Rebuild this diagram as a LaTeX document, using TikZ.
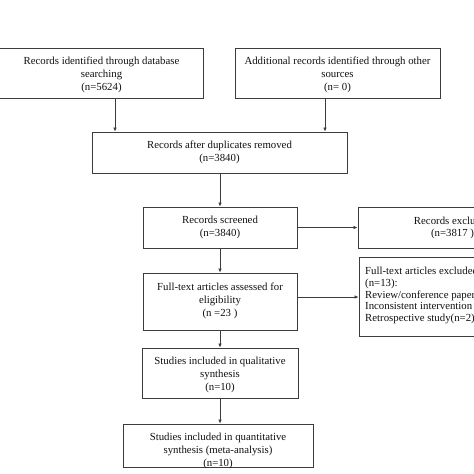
\documentclass[tikz,border=0pt]{standalone}
\usepackage{fontspec}
\setmainfont{Liberation Serif}
\usetikzlibrary{arrows.meta}
\definecolor{ink}{HTML}{111111}
\definecolor{edge}{HTML}{3C3C3C}
\tikzset{
  box/.style={draw=edge, line width=0.9pt, inner sep=0pt},
  txt/.style={text=ink, align=center, inner sep=0pt, font=\fontsize{10.8}{12.7}\selectfont},
  ltxt/.style={text=ink, align=left, inner sep=0pt, anchor=west, font=\fontsize{10.8}{11.8}\selectfont},
  arr/.style={draw=edge, line width=0.8pt, -{Latex[length=4pt,width=3.6pt]}}
}
\begin{document}
\begin{tikzpicture}[x=1pt,y=-1pt]
\useasboundingbox (0,0) rectangle (474,474);
\fill[white] (0,0) rectangle (474,474);
\clip (0,0) rectangle (474,474);
% boxes
\node[box, minimum width=205pt, minimum height=50pt] (b1) at (100.5,73) {};
\node[box, minimum width=205pt, minimum height=50pt] (b2) at (337.5,73) {};
\node[box, minimum width=255pt, minimum height=41pt] (b3) at (219.5,152.5) {};
\node[box, minimum width=154pt, minimum height=41pt] (b4) at (220,227.5) {};
\node[box, minimum width=189pt, minimum height=41pt] (b5) at (452.5,227.5) {};
\node[box, minimum width=154pt, minimum height=57pt] (b6) at (220,301.5) {};
\node[box, minimum width=200pt, minimum height=79pt] (b7) at (459,296.5) {};
\node[box, minimum width=156pt, minimum height=50pt] (b8) at (220,373) {};
\node[box, minimum width=190pt, minimum height=43pt] (b9) at (218,445.5) {};
% texts
\node[txt] (t1) at (101.5,75) {Records identified through database\\searching\\(n=5624)};
\node[txt] (t2) at (337.5,75) {Additional records identified through other\\sources\\(n= 0)};
\node[txt] (t3) at (219.5,152) {Records after duplicates removed\\(n=3840)};
\node[txt] (t4) at (220,227.5) {Records screened\\(n=3840)};
\node[txt] (t5) at (452.5,228) {Records excluded\\(n=3817 )};
\node[txt] (t6) at (220,301) {Full-text articles assessed for\\eligibility\\(n =23 )};
\node[ltxt] (t7) at (365,295.5) {Full-text articles excluded\\(n=13):\\Review/conference paper\\Inconsistent intervention\\Retrospective study(n=2)};
\node[txt] (t8) at (220,375) {Studies included in qualitative\\synthesis\\(n=10)};
\node[txt] (t9) at (218,451) {Studies included in quantitative\\synthesis (meta-analysis)\\(n=10)};
% arrow columns
\coordinate (x1) at (115,0);
\coordinate (x2) at (325,0);
\coordinate (xc) at (220,0);
\coordinate (y7) at (0,297);
\draw[arr] (b1.south -| x1) -- (b3.north -| x1);
\draw[arr] (b2.south -| x2) -- (b3.north -| x2);
\draw[arr] (b3.south -| xc) -- (b4.north -| xc);
\draw[arr] (b4.east) -- (b5.west);
\draw[arr] (b4.south -| xc) -- (b6.north -| xc);
\draw[arr] (b6.east |- y7) -- (b7.west |- y7);
\draw[arr] (b6.south -| xc) -- (b8.north -| xc);
\draw[arr] (b8.south -| xc) -- (b9.north -| xc);
\end{tikzpicture}
\end{document}
